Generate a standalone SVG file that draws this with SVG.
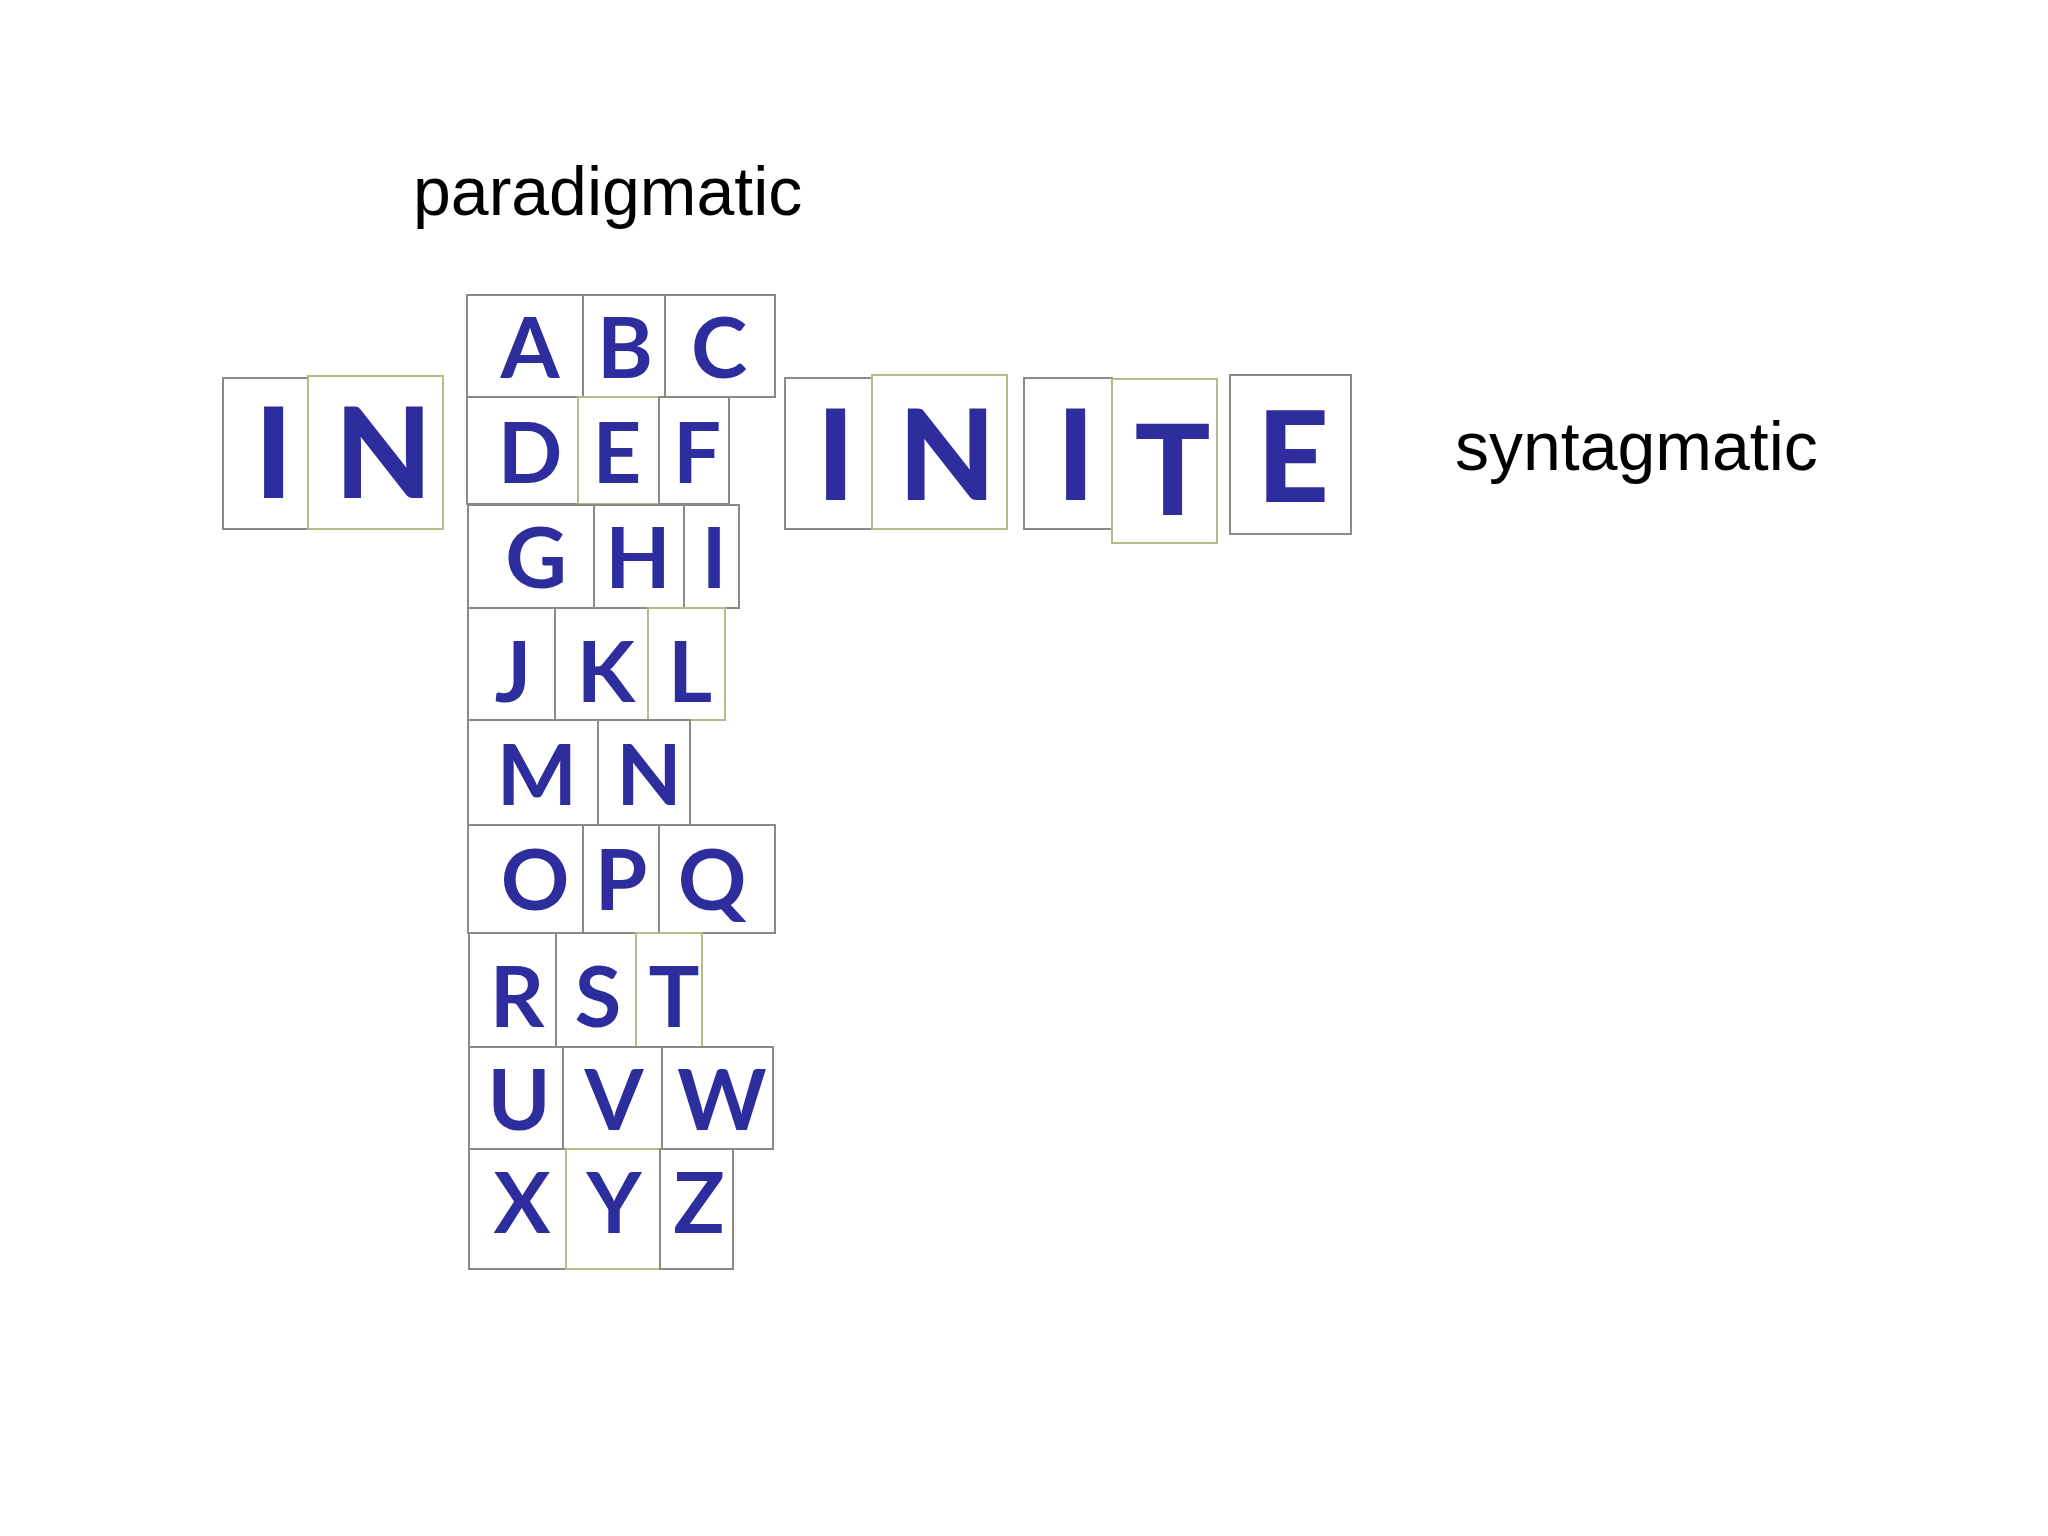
<svg xmlns="http://www.w3.org/2000/svg" width="2048" height="1536" viewBox="0 0 2048 1536">
<style>
.tile{fill:#ffffff;stroke:#8a8a86;stroke-width:2}
.ty{stroke:#b9b889}
.l{font-family:Lato,"Open Sans","DejaVu Sans",sans-serif;font-weight:700;fill:#2d2d9e;text-anchor:middle}
.s{font-size:85px}
.b{font-size:126px;font-weight:900}
.lab{font-family:"Liberation Sans",Arial,sans-serif;font-size:68px;fill:#000000}
</style>
<rect width="2048" height="1536" fill="#ffffff"/>
<g id="labels">
<text class="lab" x="413" y="215">paradigmatic</text>
<text class="lab" x="1455" y="470">syntagmatic</text>
</g>
<g id="connectors"></g>
<g id="word-left">
<g id="t-I1"><rect class="tile" x="223" y="378" width="85" height="151"/><text class="l b" x="273.5" y="498">I</text></g>
<g id="t-N1"><rect class="tile ty" x="308" y="376" width="135" height="153"/><text class="l b" x="383.5" y="498">N</text></g>
</g>
<g id="word-right">
<g id="t-I2"><rect class="tile" x="785" y="378" width="87" height="151"/><text class="l b" x="835.5" y="500">I</text></g>
<g id="t-N2"><rect class="tile ty" x="872" y="375" width="135" height="154"/><text class="l b" x="947" y="500">N</text></g>
<g id="t-I3"><rect class="tile" x="1024" y="378" width="88" height="151"/><text class="l b" x="1075.5" y="500">I</text></g>
<g id="t-T"><rect class="tile ty" x="1112" y="379" width="105" height="164"/><text class="l b" x="1172.5" y="515">T</text></g>
<g id="t-E"><rect class="tile" x="1230" y="375" width="121" height="159"/><text class="l b" x="1293" y="502">E</text></g>
</g>
<g id="column">
<g id="t-A"><rect class="tile" x="467" y="295" width="116" height="102"/><text class="l s" x="530" y="378">A</text></g>
<g id="t-B"><rect class="tile" x="583" y="295" width="82" height="102"/><text class="l s" x="625" y="378">B</text></g>
<g id="t-C"><rect class="tile" x="665" y="295" width="110" height="102"/><text class="l s" x="719" y="378">C</text></g>
<g id="t-D"><rect class="tile" x="467" y="397" width="111" height="107"/><text class="l s" x="530" y="483">D</text></g>
<g id="t-E2"><rect class="tile ty" x="578" y="397" width="81" height="107"/><text class="l s" x="617" y="483">E</text></g>
<g id="t-F"><rect class="tile" x="659" y="397" width="70" height="107"/><text class="l s" x="697" y="483">F</text></g>
<g id="t-G"><rect class="tile" x="468" y="505" width="126" height="103"/><text class="l s" x="536" y="588">G</text></g>
<g id="t-H"><rect class="tile" x="594" y="505" width="90" height="103"/><text class="l s" x="638" y="588">H</text></g>
<g id="t-I"><rect class="tile" x="684" y="505" width="55" height="103"/><text class="l s" x="714" y="588">I</text></g>
<g id="t-J"><rect class="tile" x="468" y="608" width="87" height="112"/><text class="l s" x="513" y="702">J</text></g>
<g id="t-K"><rect class="tile" x="555" y="608" width="93" height="112"/><text class="l s" x="606" y="702">K</text></g>
<g id="t-L"><rect class="tile ty" x="648" y="608" width="77" height="112"/><text class="l s" x="690" y="702">L</text></g>
<g id="t-M"><rect class="tile" x="468" y="720" width="130" height="105"/><text class="l s" x="537" y="805">M</text></g>
<g id="t-N"><rect class="tile" x="598" y="720" width="92" height="105"/><text class="l s" x="649" y="805">N</text></g>
<g id="t-O"><rect class="tile" x="468" y="825" width="115" height="108"/><text class="l s" x="535" y="910">O</text></g>
<g id="t-P"><rect class="tile" x="583" y="825" width="76" height="108"/><text class="l s" x="621" y="910">P</text></g>
<g id="t-Q"><rect class="tile" x="659" y="825" width="116" height="108"/><text class="l s" x="712" y="910">Q</text></g>
<g id="t-R"><rect class="tile" x="469" y="933" width="87" height="114"/><text class="l s" x="517" y="1027">R</text></g>
<g id="t-S"><rect class="tile" x="556" y="933" width="80" height="114"/><text class="l s" x="598" y="1027">S</text></g>
<g id="t-T2"><rect class="tile ty" x="636" y="933" width="66" height="114"/><text class="l s" x="674" y="1027">T</text></g>
<g id="t-U"><rect class="tile" x="469" y="1047" width="94" height="102"/><text class="l s" x="519" y="1130">U</text></g>
<g id="t-V"><rect class="tile" x="563" y="1047" width="99" height="102"/><text class="l s" x="614" y="1130">V</text></g>
<g id="t-W"><rect class="tile" x="662" y="1047" width="111" height="102"/><text class="l s" x="722" y="1130">W</text></g>
<g id="t-X"><rect class="tile" x="469" y="1149" width="97" height="120"/><text class="l s" x="522" y="1233">X</text></g>
<g id="t-Y"><rect class="tile ty" x="566" y="1149" width="94" height="120"/><text class="l s" x="614" y="1233">Y</text></g>
<g id="t-Z"><rect class="tile" x="660" y="1149" width="73" height="120"/><text class="l s" x="699" y="1233">Z</text></g>
</g>
</svg>
